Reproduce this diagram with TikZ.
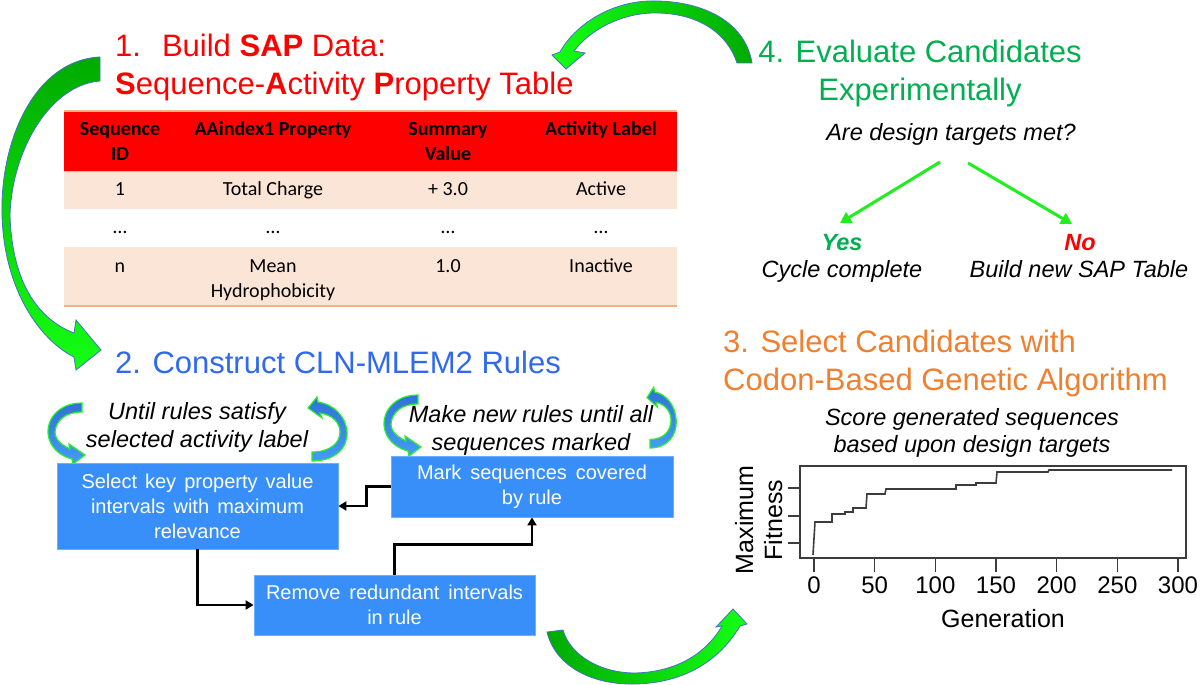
\documentclass[tikz,border=0pt]{standalone}
\usepackage{fontspec}
\setmainfont{Liberation Sans}
\newfontfamily\carlito{Carlito}
\usetikzlibrary{arrows.meta}
\definecolor{red1}{RGB}{255,0,0}
\definecolor{green4}{RGB}{0,176,80}
\definecolor{blue2}{RGB}{48,105,240}
\definecolor{orange3}{RGB}{240,128,48}
\definecolor{boxblue}{RGB}{56,143,250}
\definecolor{boxedge}{RGB}{110,175,255}
\definecolor{peach}{RGB}{251,229,214}
\definecolor{tline}{RGB}{244,177,131}
\definecolor{gdark}{RGB}{0,170,0}
\definecolor{gbright}{RGB}{20,255,20}
\definecolor{aedge}{RGB}{68,114,196}
\definecolor{sgreen}{RGB}{40,240,40}
\definecolor{sblue1}{RGB}{45,115,215}
\definecolor{sblue2}{RGB}{70,155,250}
\definecolor{agreen}{RGB}{30,240,30}
\definecolor{plotc}{RGB}{60,60,60}
\newcommand\smallL{%
  \path[smallarrow] (0,0) .. controls (-24,0) and (-35,17) .. (-34,30)
    .. controls (-33,44) and (-22,53) .. (-10,56) -- (-9,61) -- (3,52) -- (-13,41) -- (-12,46)
    .. controls (-20,42) and (-27,37) .. (-27,29) .. controls (-26,17) and (-16,9) .. (0,9) -- cycle;}
\newcommand\smallR{%
  \path[smallarrow] (0,0) .. controls (23,0) and (36,-13) .. (35,-29)
    .. controls (34,-45) and (21,-57) .. (6,-59) -- (5,-64) -- (-4,-53) -- (10,-43) -- (8,-48)
    .. controls (21,-46) and (28,-38) .. (28,-29) .. controls (28,-18) and (18,-9) .. (0,-9) -- cycle;}
\begin{document}
\begin{tikzpicture}[x=1pt,y=-1pt,
  title/.style={anchor=base west, inner sep=0, font=\fontsize{31}{37}\selectfont},
  ctitle/.style={anchor=base, inner sep=0, font=\fontsize{31}{37}\selectfont},
  lbl/.style={anchor=base, inner sep=0, font=\fontsize{23.5}{28}\selectfont\itshape},
  cellh/.style={anchor=base, inner sep=0, font={\fontsize{20}{24}\selectfont\carlito\bfseries}},
  cell/.style={anchor=base, inner sep=0, font={\fontsize{20}{24}\selectfont\carlito}},
  bluebox/.style={rectangle, draw=boxedge, line width=0.8pt, fill=boxblue, inner sep=0,
    text=white, align=center, font=\fontsize{20}{25}\selectfont},
  conn/.style={line width=2.5pt, line join=miter, black, -{Triangle[length=8pt,width=9pt]}},
  bigarrow/.style={draw=aedge, line width=0.8pt},
  smallarrow/.style={draw=sgreen, line width=1.2pt, top color=sblue1, bottom color=sblue2},
  garrow/.style={draw=agreen, line width=3pt, -{Triangle[length=11pt,width=12pt]}},
  tick/.style={anchor=base, inner sep=0, font=\fontsize{24}{28}\selectfont},
  axl/.style={inner sep=0, font=\fontsize{25}{30}\selectfont}
]
\useasboundingbox (0,0) rectangle (1200,685);
\fill[white] (0,0) rectangle (1200,685);

% ---------- big green arrows ----------
\path[bigarrow, top color=gdark, bottom color=gbright]
  (100,57) .. controls (35,60) and (0,140) .. (2,215) .. controls (4,290) and (40,340) .. (74,357)
  -- (76,370) -- (101,350) -- (76,320) -- (74,333)
  .. controls (40,320) and (12,285) .. (10,215) .. controls (12,150) and (50,85) .. (100,81) -- cycle;
\path[bigarrow, left color=gbright, right color=gdark]
  (752,63) .. controls (745,20) and (700,0) .. (650,1) .. controls (610,2) and (575,25) .. (560,52)
  -- (552,55) -- (566,69) -- (585,53) -- (574,51)
  .. controls (590,30) and (620,14) .. (652,13) .. controls (700,12) and (728,35) .. (737,63) -- cycle;
\path[bigarrow, left color=gdark, right color=gbright]
  (547,632) .. controls (555,665) and (590,685) .. (635,684) .. controls (685,683) and (720,660) .. (740,626)
  -- (747,624) -- (733,609) -- (716,627) -- (722,626)
  .. controls (705,655) and (675,672) .. (635,673) .. controls (600,673) and (570,655) .. (563,630) -- cycle;

% ---------- 1. SAP table ----------
\node[title, text=red1] (t1a) at (115,57) {1.\hspace{21pt}Build \textbf{SAP} Data:};
\node[title, text=red1] (t1b) at (115,95) {\textbf{S}equence-\textbf{A}ctivity \textbf{P}roperty Table};

\fill[red1] (64,111) rectangle (677,171);
\fill[peach] (64,171) rectangle (677,209);
\fill[peach] (64,247) rectangle (677,306);
\draw[tline, line width=1.2pt] (64,111) -- (677,111);
\draw[tline, line width=1pt] (64,171) -- (677,171);
\draw[tline, line width=2pt] (64,306) -- (677,306);

\node[cellh] (h1a) at (120,135) {Sequence};
\node[cellh] (h1b) at (120,160) {ID};
\node[cellh] (h2) at (273,135) {AAindex1 Property};
\node[cellh] (h3a) at (448,135) {Summary};
\node[cellh] (h3b) at (448,160) {Value};
\node[cellh] (h4) at (601,135) {Activity Label};

\node[cell] (r1a) at (120,195) {1};
\node[cell] (r1b) at (273,195) {Total Charge};
\node[cell] (r1c) at (448,195) {+ 3.0};
\node[cell] (r1d) at (601,195) {Active};
\node[cell] (r2a) at (120,233) {…};
\node[cell] (r2b) at (273,233) {…};
\node[cell] (r2c) at (448,233) {…};
\node[cell] (r2d) at (601,233) {…};
\node[cell] (r3a) at (120,272) {n};
\node[cell] (r3b) at (273,272) {Mean};
\node[cell] (r3b2) at (273,297) {Hydrophobicity};
\node[cell] (r3c) at (448,272) {1.0};
\node[cell] (r3d) at (601,272) {Inactive};

% ---------- 4. Evaluate ----------
\node[ctitle, text=green4] (t4a) at (920,63) {4. Evaluate Candidates};
\node[ctitle, text=green4] (t4b) at (920,100) {Experimentally};
\node[lbl] (q4) at (951,140) {Are design targets met?};
\node[lbl, font=\fontsize{23.5}{28}\selectfont\bfseries\itshape, text=green4] (yes) at (842,250) {Yes};
\node[lbl, font=\fontsize{23.5}{28}\selectfont\bfseries\itshape, text=red1] (no) at (1080,250) {No};
\node[lbl] (cyc) at (842,277) {Cycle complete};
\node[lbl] (bns) at (1079,277) {Build new SAP Table};
\coordinate (q4l) at (940,162);
\coordinate (q4r) at (968,163);
\coordinate (yest) at (840,223);
\coordinate (not) at (1072,224);
\draw[garrow] (q4l) -- (yest);
\draw[garrow] (q4r) -- (not);

% ---------- 2. CLN-MLEM2 ----------
\node[title, text=blue2] (t2) at (115,373) {2. Construct CLN-MLEM2 Rules};
\node[lbl] (u1) at (197,419) {Until rules satisfy};
\node[lbl] (u2) at (197,447) {selected activity label};
\node[lbl] (m1) at (531,422) {Make new rules until all};
\node[lbl] (m2) at (531,450) {sequences marked};

\begin{scope}[shift={(82,403)}]\smallL\end{scope}
\begin{scope}[shift={(312,461)}]\smallR\end{scope}
\begin{scope}[shift={(418,395)}]\smallL\end{scope}
\begin{scope}[shift={(650,448)}, xscale=0.75, yscale=0.95]\smallR\end{scope}

\node[bluebox, minimum width=281pt, minimum height=86pt] (boxA) at (197.5,506)
  {\makebox[232pt][s]{Select key property value}\\\makebox[213pt][s]{intervals with maximum}\\relevance};
\node[bluebox, minimum width=282pt, minimum height=61pt] (boxB) at (532,486.5)
  {\makebox[230pt][s]{Mark sequences covered}\\by rule};
\node[bluebox, minimum width=281pt, minimum height=60pt] (boxC) at (394.5,605)
  {\makebox[257pt][s]{Remove redundant intervals}\\in rule};

\draw[conn] (boxB.west) -- ++(-24,0) |- (boxA.east);
\draw[conn] (boxA.south) |- (boxC.west);
\draw[conn] (boxC.north) -- ++(0,-30) -| (boxB.south);

% ---------- 3. Genetic algorithm ----------
\node[title, text=orange3] (t3a) at (723,352) {3. Select Candidates with};
\node[title, text=orange3] (t3b) at (723,390) {Codon-Based Genetic Algorithm};
\node[lbl] (s1) at (972,425) {Score generated sequences};
\node[lbl] (s2) at (972,452) {based upon design targets};

\draw[plotc, line width=1.3pt] (800,466) rectangle (1186,558);
\foreach \y in {488,516,543} \draw[plotc, line width=1.3pt] (788,\y) -- (800,\y);
\foreach \g in {0,50,...,300} {
  \draw[plotc, line width=1.3pt] ({814+1.2133*\g},558) -- ({814+1.2133*\g},572);
  \node[tick] (tk\g) at ({814+1.2133*\g},593) {\g};
}
\draw[plotc, line width=1.6pt, line join=miter]
  (813,555) -- (815,522) -- (832,522) -- (832,514) -- (845,514) -- (845,512) -- (853,512)
  -- (853,508) -- (866,508) -- (867,494) -- (885,494) -- (886,489) -- (956,489) -- (956,485)
  -- (976,485) -- (976,483) -- (996,483) -- (997,472) -- (1048,472) -- (1049,470) -- (1172,470);
\node[axl, anchor=base] (gen) at (1003,627) {Generation};
\node[axl, anchor=base, rotate=90] (ymax) at (753,520) {Maximum};
\node[axl, anchor=base, rotate=90] (yfit) at (782,520) {Fitness};
\end{tikzpicture}
\end{document}
